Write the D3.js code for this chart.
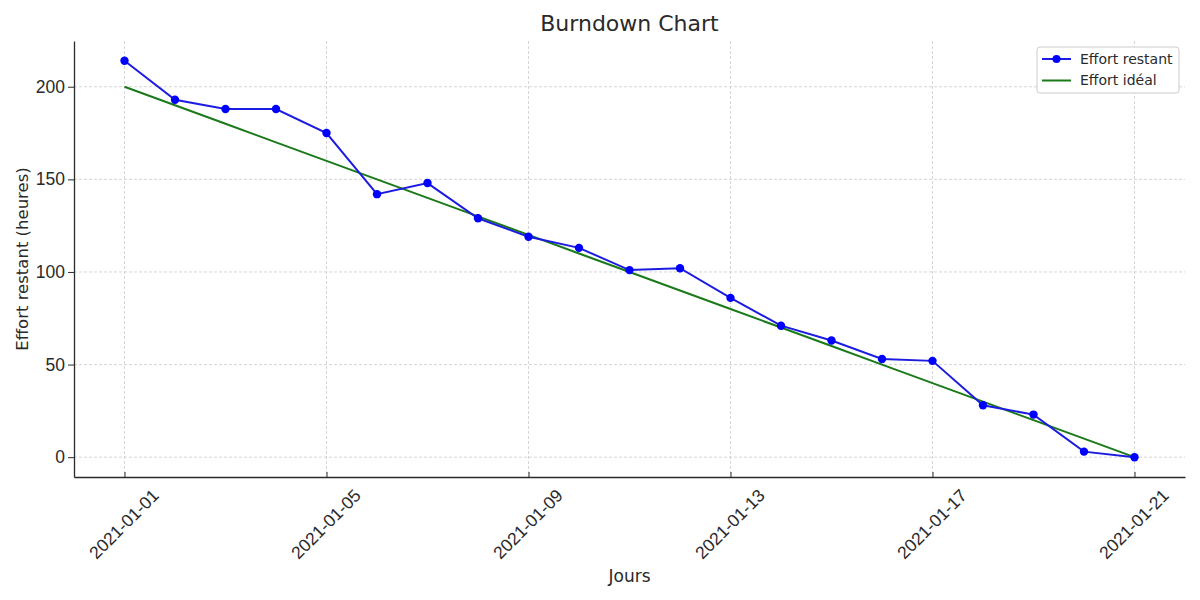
<!DOCTYPE html>
<html>
<head>
<meta charset="utf-8">
<script src="https://cdn.jsdelivr.net/npm/d3@7"></script>
<style>
  body { margin: 0; background: #fff; }
  svg { font-family: "DejaVu Sans", sans-serif; }
</style>
</head>
<body>
<svg id="chart"></svg>
<script>
// Data
const days = ["2021-01-01","2021-01-02","2021-01-03","2021-01-04","2021-01-05","2021-01-06","2021-01-07",
  "2021-01-08","2021-01-09","2021-01-10","2021-01-11","2021-01-12","2021-01-13","2021-01-14",
  "2021-01-15","2021-01-16","2021-01-17","2021-01-18","2021-01-19","2021-01-20","2021-01-21"];
const remaining = [214, 193, 188, 188, 175, 142, 148, 129, 119, 113, 101, 102, 86, 71, 63, 53, 52, 28, 23, 3, 0];
const ideal = [200, 190, 180, 170, 160, 150, 140, 130, 120, 110, 100, 90, 80, 70, 60, 50, 40, 30, 20, 10, 0];
const xTicks = ["2021-01-01","2021-01-05","2021-01-09","2021-01-13","2021-01-17","2021-01-21"];
const yTicks = [0, 50, 100, 150, 200];

const width = 1200, height = 600;
const plotLeft = 74, plotRight = 1185, plotTop = 41, plotBottom = 477;
const parse = d3.timeParse("%Y-%m-%d");
const fmt = d3.timeFormat("%Y-%m-%d");
const textColor = "#2a2a2a";

const svg = d3.select("#chart").attr("width", width).attr("height", height);

// matplotlib-style 5% margins
const dates = days.map(parse);
const [d0, d1] = d3.extent(dates);
const padX = (d1 - d0) * 0.05;
const x = d3.scaleTime()
  .domain([new Date(+d0 - padX), new Date(+d1 + padX)])
  .range([plotLeft, plotRight]);

const yMax = d3.max(remaining.concat(ideal)), yMin = d3.min(remaining.concat(ideal));
const padY = (yMax - yMin) * 0.05;
const y = d3.scaleLinear()
  .domain([yMin - padY, yMax + padY])
  .range([plotBottom, plotTop]);

// Grid
const grid = svg.append("g");
grid.selectAll(".vg").data(xTicks.map(parse)).enter().append("line")
  .attr("x1", d => x(d)).attr("x2", d => x(d))
  .attr("y1", plotTop).attr("y2", plotBottom)
  .style("stroke", "#d0d0d0").style("stroke-width", 0.9).style("stroke-dasharray", "3,2");
grid.selectAll(".hg").data(yTicks).enter().append("line")
  .attr("x1", plotLeft).attr("x2", plotRight)
  .attr("y1", d => y(d)).attr("y2", d => y(d))
  .style("stroke", "#d0d0d0").style("stroke-width", 0.9).style("stroke-dasharray", "3,2");

// Axes
const xAxis = svg.append("g")
  .attr("transform", `translate(0,${plotBottom})`)
  .call(d3.axisBottom(x).tickValues(xTicks.map(parse)).tickFormat(fmt).tickSizeInner(-5).tickSizeOuter(0));
xAxis.select(".domain").style("stroke", textColor).style("stroke-width", 1.3);
xAxis.selectAll(".tick line").style("stroke", textColor);
xAxis.selectAll(".tick text")
  .attr("y", 0).attr("dy", 0)
  .attr("text-anchor", "middle")
  .attr("transform", "translate(0,48) rotate(-45)")
  .attr("dominant-baseline", "middle")
  .style("font-size", "17.5px").style("fill", textColor);

const yAxis = svg.append("g")
  .attr("transform", `translate(${plotLeft},0)`)
  .call(d3.axisLeft(y).tickValues(yTicks).tickSizeInner(6).tickSizeOuter(0).tickPadding(3));
yAxis.select(".domain").style("stroke", textColor).style("stroke-width", 1.3);
yAxis.selectAll(".tick line").style("stroke", textColor);
yAxis.selectAll(".tick text").style("font-size", "17.5px").style("fill", textColor);

// Lines
const line = d3.line().x((d, i) => x(dates[i])).y(d => y(d));

svg.append("path")
  .datum(ideal)
  .attr("d", line)
  .style("fill", "none").style("stroke", "#1a7a1a").style("stroke-width", 2);

svg.append("path")
  .datum(remaining)
  .attr("d", line)
  .style("fill", "none").style("stroke", "#1c1ce0").style("stroke-width", 2);

svg.selectAll(".dot").data(remaining).enter().append("circle")
  .attr("cx", (d, i) => x(dates[i]))
  .attr("cy", d => y(d))
  .attr("r", 4.2)
  .style("fill", "#0000ff");

// Title and labels
svg.append("text").attr("x", (plotLeft + plotRight) / 2).attr("y", 31)
  .attr("text-anchor", "middle").style("font-size", "22px").style("fill", textColor)
  .text("Burndown Chart");
svg.append("text").attr("x", (plotLeft + plotRight) / 2).attr("y", 582)
  .attr("text-anchor", "middle").style("font-size", "17px").style("fill", textColor)
  .text("Jours");
svg.append("text")
  .attr("transform", `translate(28,${(plotTop + plotBottom) / 2}) rotate(-90)`)
  .attr("text-anchor", "middle").style("font-size", "16.5px").style("fill", textColor)
  .text("Effort restant (heures)");

// Legend
const legend = svg.append("g").attr("transform", "translate(1037,47)");
legend.append("rect").attr("width", 142).attr("height", 46).attr("rx", 3)
  .style("fill", "#fff").style("stroke", "#ccc").style("stroke-width", 1);
const items = [
  { name: "Effort restant", color: "#1c1ce0", dot: true },
  { name: "Effort idéal", color: "#1a7a1a", dot: false }
];
const li = legend.selectAll(".li").data(items).enter().append("g")
  .attr("transform", (d, i) => `translate(0,${12 + i * 21.5})`);
li.append("line").attr("x1", 5).attr("x2", 34).attr("y1", 0).attr("y2", 0)
  .style("stroke", d => d.color).style("stroke-width", 2);
li.filter(d => d.dot).append("circle").attr("cx", 19.5).attr("cy", 0).attr("r", 4).style("fill", "#0000ff");
li.append("text").attr("x", 43).attr("y", 0).attr("dy", "0.35em")
  .style("font-size", "14px").style("fill", textColor)
  .text(d => d.name);
</script>
</body>
</html>
